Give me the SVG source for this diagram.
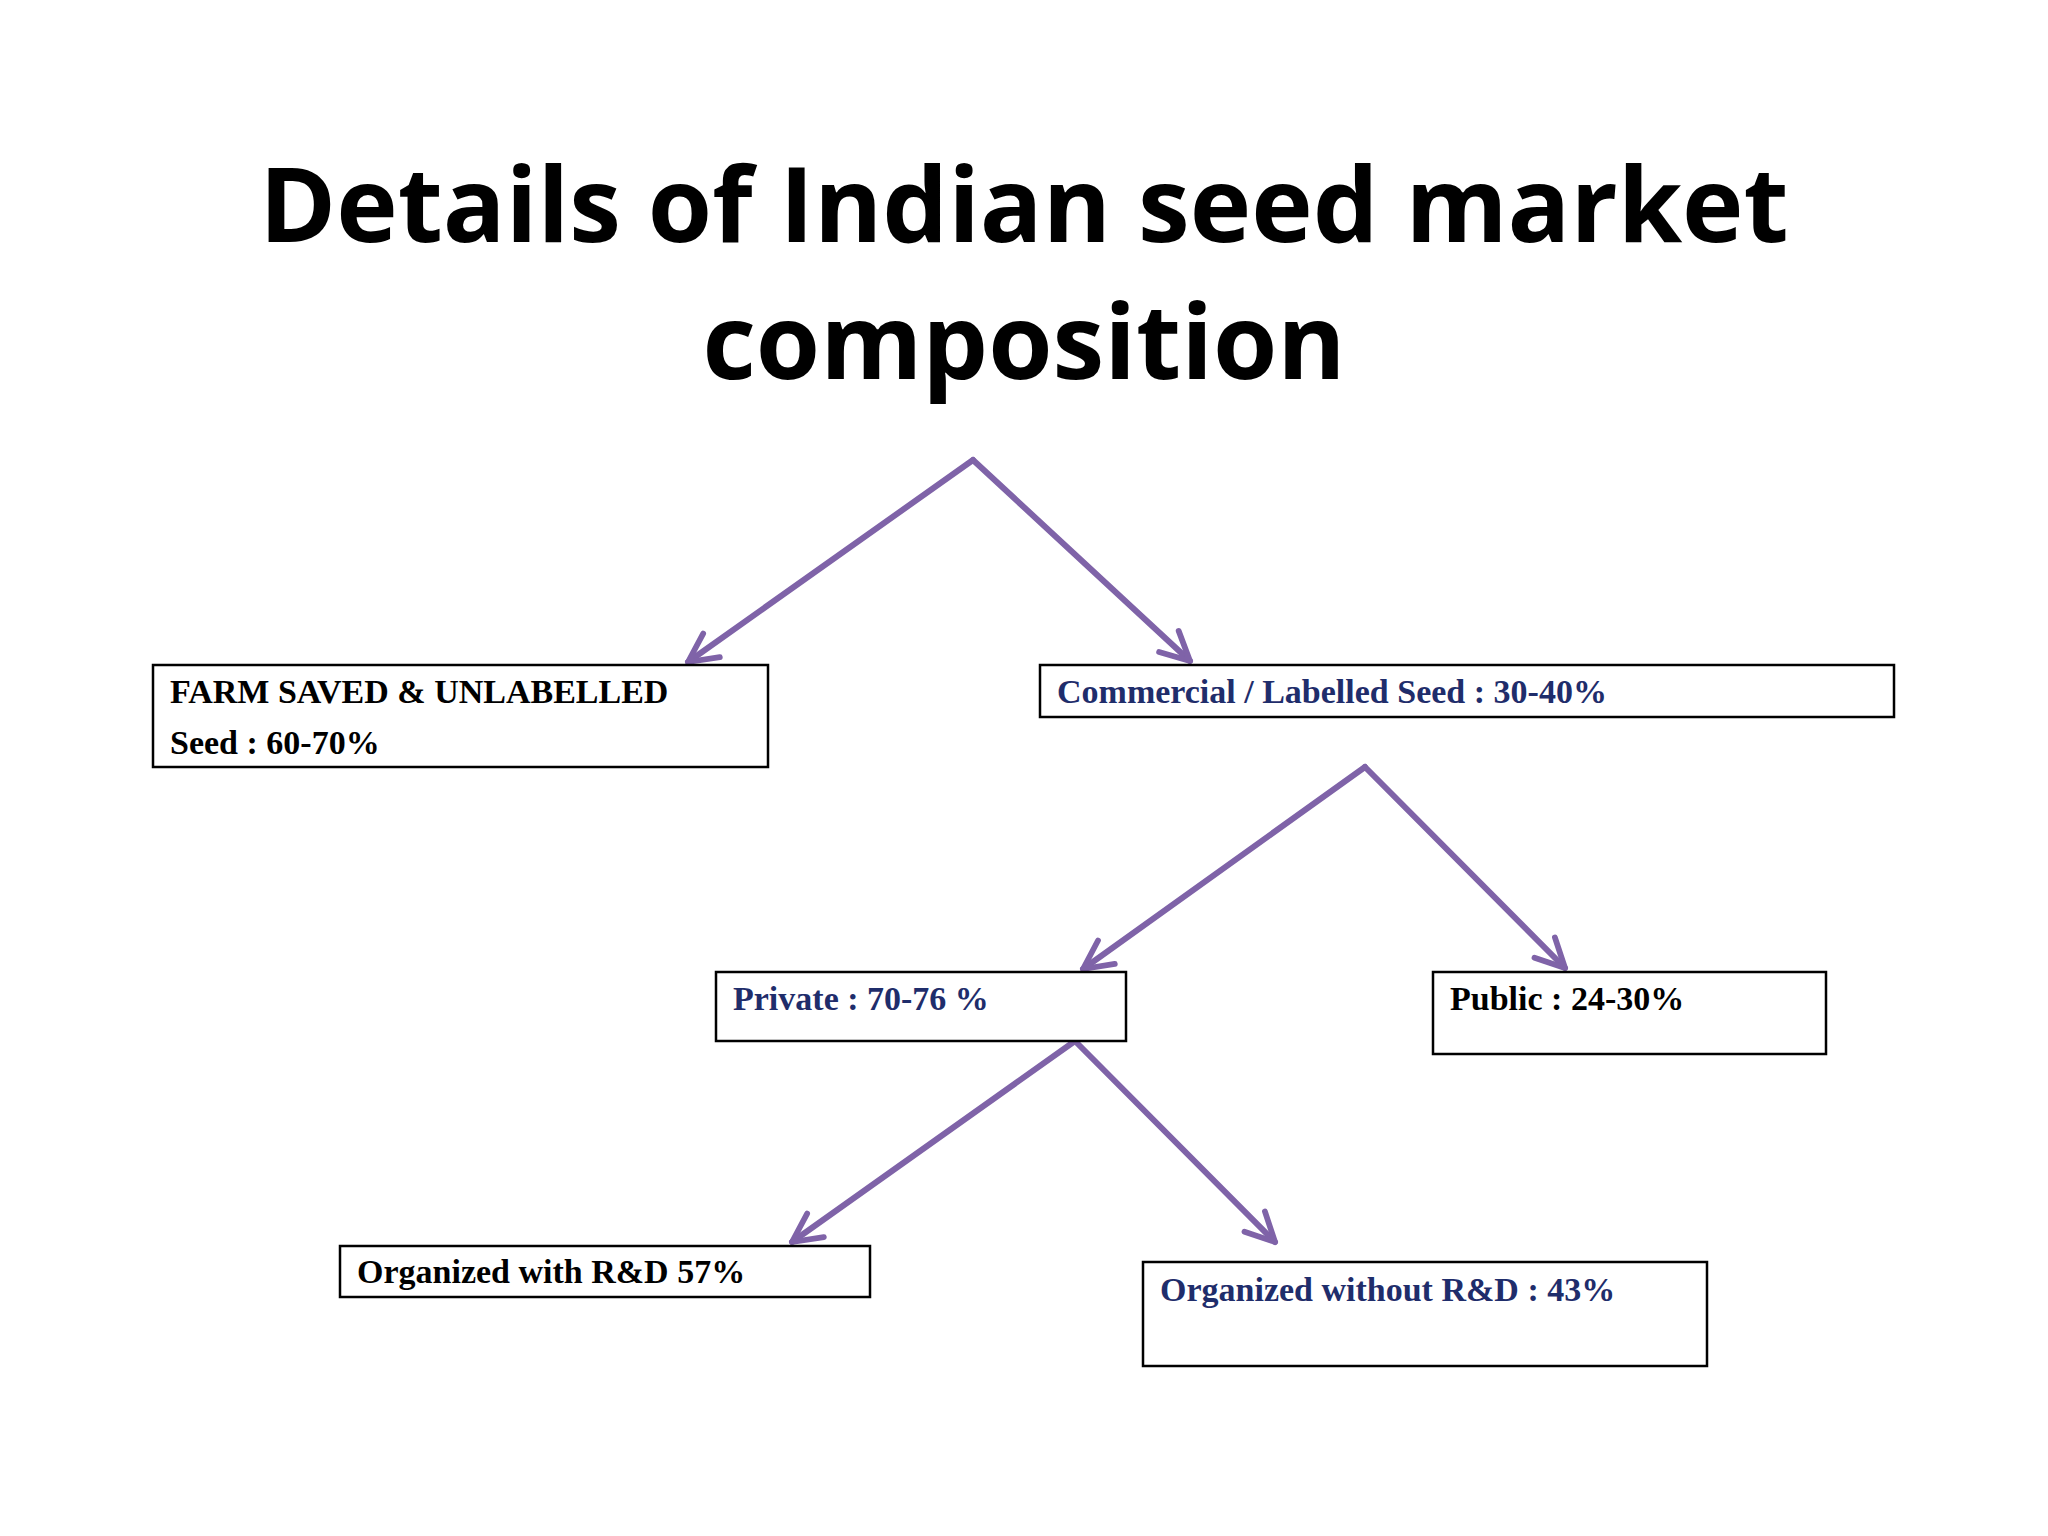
<svg xmlns="http://www.w3.org/2000/svg" width="2048" height="1536" viewBox="0 0 2048 1536">
<defs>
<marker id="ah" viewBox="0 0 10 10" refX="9" refY="5" markerWidth="6" markerHeight="6" orient="auto" markerUnits="strokeWidth">
<path d="M1,1 L9,5 L1,9" fill="none" stroke="#7f63a8" stroke-width="1.6" stroke-linecap="round" stroke-linejoin="round"/>
</marker>
<style>
.box{fill:#fff;stroke:#000;stroke-width:2.5}
.t{font-family:"Liberation Serif",serif;font-weight:bold;font-size:34px}
.k{fill:#000}.n{fill:#1f2d6b}
.c{fill:none;stroke:#7f63a8;stroke-width:6;stroke-linecap:round;marker-end:url(#ah)}
.title{font-family:"Open Sans","Liberation Sans",sans-serif;font-weight:bold;font-size:104px;text-anchor:middle}
</style>
</defs>
<rect width="2048" height="1536" fill="#fff"/>
<text class="title" x="1024" y="242">Details of Indian seed market</text>
<text class="title" x="1024" y="379">composition</text>
<g id="connectors">
<line class="c" x1="973" y1="460" x2="688" y2="662"/>
<line class="c" x1="973" y1="460" x2="1190" y2="661"/>
<line class="c" x1="1365" y1="767" x2="1083" y2="969"/>
<line class="c" x1="1365" y1="767" x2="1565" y2="968"/>
<line class="c" x1="1075" y1="1041" x2="792" y2="1242"/>
<line class="c" x1="1075" y1="1041" x2="1275" y2="1242"/>
</g>
<g id="farm"><rect class="box" x="153" y="665" width="615" height="102"/>
<text class="t k" x="170" y="703">FARM SAVED &amp; UNLABELLED</text><text class="t k" x="170" y="754">Seed : 60-70%</text></g>
<g id="commercial"><rect class="box" x="1040" y="665" width="854" height="52"/>
<text class="t n" x="1057" y="703">Commercial / Labelled Seed : 30-40%</text></g>
<g id="private"><rect class="box" x="716" y="972" width="410" height="69"/>
<text class="t n" x="733" y="1010">Private : 70-76 %</text></g>
<g id="public"><rect class="box" x="1433" y="972" width="393" height="82"/>
<text class="t k" x="1450" y="1010">Public : 24-30%</text></g>
<g id="withrd"><rect class="box" x="340" y="1246" width="530" height="51"/>
<text class="t k" x="357" y="1283">Organized with R&amp;D 57%</text></g>
<g id="withoutrd"><rect class="box" x="1143" y="1262" width="564" height="104"/>
<text class="t n" x="1160" y="1301">Organized without R&amp;D : 43%</text></g>
</svg>
